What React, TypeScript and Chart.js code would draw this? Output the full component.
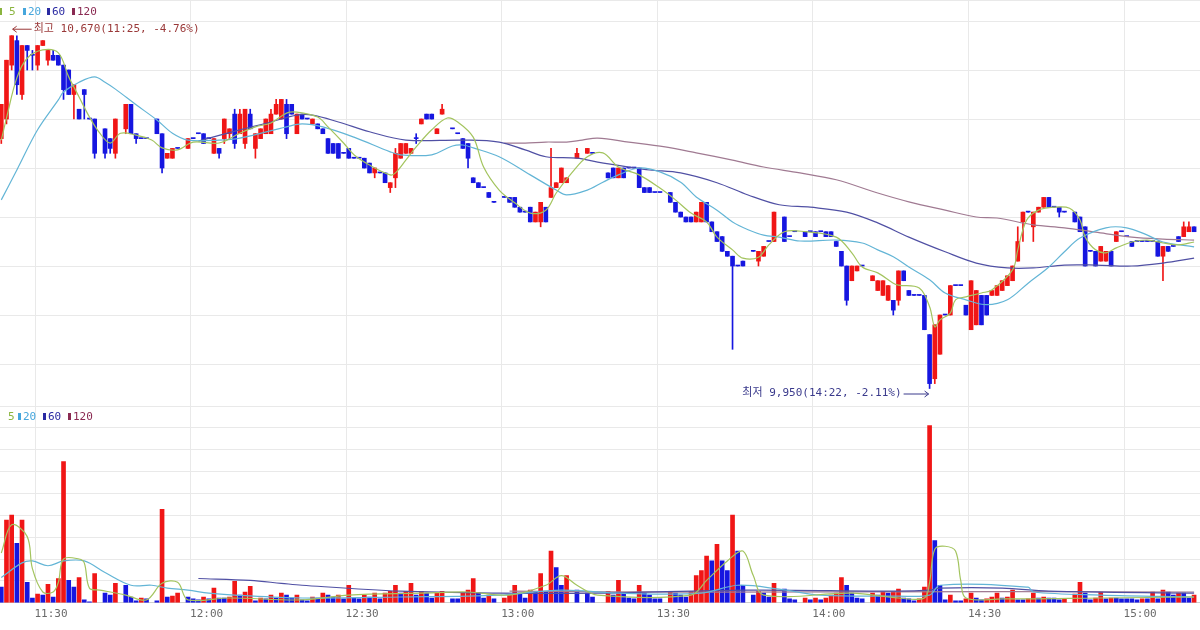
import React, { useEffect, useRef } from "react";
import { Chart, registerables } from "chart.js";

Chart.register(...registerables);

// ---- time axis (minutes after 11:00); first candle is 11:23 ----
const FIRST_MINUTE = 23;
const tickMinutes = [30, 60, 90, 120, 150, 180, 210, 240];
const tickLabels = ["11:30", "12:00", "12:30", "13:00", "13:30", "14:00", "14:30", "15:00"];

// ---- 1-minute candles (null = no trade) ----
const opens = [
  10460,10500,10610,10660,10550,10650,10630,10610,10650,10620,
  10630,10630,10610,10600,10550,10520,10560,10500,10500,null,
  10480,10460,10430,null,10480,10530,10470,10460,10460,null,
  10500,10470,10420,10420,10440,null,10440,10460,10470,10470,
  10460,10430,10440,10460,10470,10510,10470,10450,10510,10440,
  10460,10470,10470,10510,10500,10530,10530,10470,10510,10500,
  10490,10490,10480,10460,10450,10450,10430,10440,10420,10420,
  10420,10410,10390,10390,10390,10360,10380,10420,10430,10430,
  10460,10490,10510,10510,10470,10510,null,10480,10470,10460,
  10450,10380,10370,10360,10350,10330,null,10340,10340,10340,
  10320,10310,10320,10290,10290,10320,10340,10360,10370,10370,
  null,10420,null,10430,10430,null,null,10390,10400,10380,
  10400,10400,10400,10400,10360,10360,10350,10350,null,10350,
  10330,10310,10300,10300,10290,10290,10330,10290,10270,10260,
  10230,10220,10200,10210,null,10230,10210,10220,10250,10250,
  null,10300,10260,10270,null,10270,10270,10270,10270,10270,
  10270,10250,10230,10200,10170,10190,10200,null,10170,10150,
  10140,10130,10130,10130,10190,10150,10140,10140,10140,10060,
  9970,10020,10100,10100,10160,10160,10120,10070,10080,10140,
  10140,10140,10140,10150,10160,10170,10210,10290,10310,10280,
  10310,10320,10340,10320,10320,10310,null,10310,10300,10280,
  10230,10230,10210,10210,10230,10250,10270,10260,10250,10250,
  10250,10250,10250,10250,10220,10240,10240,10260,10260,10270,
  10280,
];
const highs = [
  10530,10620,10670,10670,10650,10650,10640,10650,10660,10640,
  10640,10630,10610,10600,10570,10520,10560,10500,10500,null,
  10480,10460,10500,null,10530,10530,10470,10460,10460,null,
  10500,10470,10430,10440,10440,null,10460,10460,10470,10470,
  10460,10460,10440,10500,10480,10520,10520,10520,10520,10470,
  10480,10500,10520,10540,10540,10540,10530,10510,10510,10500,
  10500,10490,10480,10460,10450,10450,10430,10440,10420,10420,
  10420,10410,10400,10390,10390,10370,10440,10450,10450,10440,
  10470,10500,10510,10510,10480,10530,null,10480,10470,10460,
  10450,10380,10370,10360,10350,10330,null,10340,10340,10340,
  10320,10310,10320,10310,10330,10320,10440,10370,10400,10380,
  null,10440,null,10440,10430,null,null,10390,10400,10400,
  10400,10400,10400,10400,10360,10360,10350,10350,null,10350,
  10330,10310,10300,10300,10310,10330,10330,10290,10270,10260,
  10230,10220,10200,10210,null,10230,10230,10240,10250,10310,
  null,10300,10260,10270,null,10270,10270,10270,10270,10270,
  10270,10250,10230,10200,10200,10200,10200,null,10180,10170,
  10170,10160,10130,10190,10190,10150,10140,10140,10140,10060,
  10080,10100,10100,10160,10160,10160,10120,10170,10150,10140,
  10140,10150,10160,10170,10180,10200,10280,10310,10310,10310,
  10320,10340,10340,10320,10320,10310,null,10310,10300,10280,
  10230,10230,10240,10230,10230,10270,10270,10260,10250,10250,
  10250,10250,10250,10250,10240,10240,10240,10260,10290,10290,
  10280,
];
const lows = [
  10450,10490,10600,10550,10540,10600,10600,10600,10650,10610,
  10620,10610,10540,10550,10500,10500,10500,10500,10420,null,
  10420,10430,10420,null,10470,10470,10450,10460,10460,null,
  10470,10390,10420,10420,10440,null,10440,10460,10470,10450,
  10460,10430,10420,10450,10460,10440,10470,10440,10480,10420,
  10460,10470,10470,10510,10500,10460,10510,10470,10500,10500,
  10490,10480,10470,10430,10430,10420,10430,10420,10420,10420,
  10400,10390,10380,10390,10370,10350,10360,10420,10430,10430,
  10450,10490,10500,10500,10470,10510,null,10480,10470,10440,
  10400,10370,10360,10360,10340,10330,null,10340,10330,10320,
  10310,10310,10290,10290,10280,10290,10340,10360,10370,10370,
  null,10420,null,10430,10430,null,null,10380,10380,10380,
  10380,10400,10400,10360,10350,10350,10350,10350,null,10330,
  10310,10300,10290,10290,10290,10290,10290,10270,10250,10230,
  10220,10030,10200,10200,null,10230,10200,10220,10250,10250,
  null,10250,10260,10270,null,10260,10270,10260,10270,10260,
  10260,10240,10200,10120,10170,10190,10200,null,10170,10150,
  10140,10130,10100,10120,10170,10140,10140,10140,10070,9950,
  9960,10020,10100,10100,10160,10160,10100,10070,10080,10080,
  10100,10140,10140,10150,10160,10170,10210,10250,10310,10250,
  10310,10320,10320,10320,10300,10310,null,10290,10270,10200,
  10230,10200,10210,10210,10200,10250,10270,10260,10240,10250,
  10250,10250,10250,10220,10170,10230,10240,10250,10260,10270,
  10270,
];
const closes = [
  10530,10620,10670,10570,10650,10640,10630,10650,10660,10640,
  10620,10610,10560,10550,10570,10500,10550,10500,10430,null,
  10430,10440,10500,null,10530,10470,10460,10460,10460,null,
  10470,10400,10430,10440,10440,null,10460,10460,10470,10450,
  10460,10460,10430,10500,10480,10450,10510,10520,10480,10470,
  10480,10500,10510,10530,10540,10470,10510,10510,10500,10500,
  10500,10480,10470,10430,10430,10420,10430,10420,10420,10420,
  10400,10390,10400,10390,10370,10370,10430,10450,10450,10440,
  10460,10500,10500,10500,10480,10520,null,10480,10470,10440,
  10420,10370,10360,10360,10340,10330,null,10340,10330,10320,
  10310,10310,10290,10310,10330,10290,10360,10370,10400,10380,
  null,10430,null,10440,10430,null,null,10380,10380,10400,
  10380,10400,10400,10360,10350,10350,10350,10350,null,10330,
  10310,10300,10290,10290,10310,10330,10290,10270,10250,10230,
  10220,10200,10200,10200,null,10230,10230,10240,10250,10310,
  null,10250,10260,10270,null,10260,10270,10260,10270,10260,
  10260,10240,10200,10130,10200,10200,10200,null,10180,10170,
  10170,10160,10110,10190,10170,10140,10140,10140,10070,9960,
  10080,10100,10100,10160,10160,10160,10100,10170,10150,10080,
  10100,10150,10160,10170,10180,10200,10250,10310,10310,10310,
  10320,10340,10320,10320,10310,10310,null,10290,10270,10200,
  10230,10200,10240,10230,10200,10270,10270,10260,10240,10250,
  10250,10250,10250,10220,10240,10230,10240,10250,10280,10280,
  10270,
];
const volumes = [
  81,429,455,308,429,106,25,45,40,96,
  30,126,732,116,81,131,15,5,152,null,
  50,40,101,null,91,30,10,25,20,null,
  10,485,30,35,50,null,30,20,15,30,
  20,76,25,25,30,111,40,56,86,10,
  25,20,40,25,50,40,25,40,15,10,
  30,25,50,40,30,40,20,91,25,20,
  40,30,50,20,50,60,91,50,60,101,
  40,60,50,25,50,60,null,20,20,50,
  66,126,50,25,40,20,null,25,40,91,
  50,25,66,60,152,60,268,182,91,141,
  null,66,null,50,30,null,null,60,40,116,
  50,25,20,91,50,40,20,20,null,60,
  50,40,30,60,141,167,242,217,303,217,
  167,455,268,91,null,40,60,50,30,101,
  null,71,20,15,null,25,15,25,15,25,
  40,50,131,91,50,25,20,null,50,40,
  60,50,60,71,25,20,10,20,81,919,
  323,91,15,40,10,10,20,50,25,15,
  20,30,50,25,30,66,15,15,20,50,
  25,30,25,25,15,20,null,45,106,50,
  15,25,56,20,25,25,20,20,20,15,
  20,20,56,20,66,56,40,50,50,25,
  40,
];

// ---- price moving averages at candle indexes ----
const ma5Idx = [0,1,3,5,8,11,13,15,17,19,21,23,26,29,31,34,37,42,46,49,52,55,57,61,63,66,68,71,75,76,78,80,83,86,88,91,93,96,99,102,105,107,110,113,116,119,123,127,130,133,136,138,141,143,146,148,151,155,161,164,166,169,172,173,177,179,180,181,183,184,186,189,191,195,196,197,198,200,203,206,208,209,211,213,215,218,221,224,227,230];
const ma5Val = [10457,10502,10584,10624,10641,10635,10586,10545,10504,10471,10451,10471,10467,10457,10441,10437,10453,10451,10471,10484,10492,10512,10514,10504,10484,10451,10427,10406,10386,10390,10416,10443,10478,10502,10494,10463,10402,10355,10329,10308,10314,10349,10390,10423,10431,10402,10386,10359,10335,10308,10290,10259,10233,10216,10218,10243,10270,10270,10259,10227,10198,10186,10165,10161,10155,10117,10076,10090,10104,10131,10137,10145,10151,10192,10233,10274,10298,10314,10320,10318,10294,10259,10233,10227,10237,10249,10253,10247,10243,10249];
const ma20Idx = [0,3,7,11,12,15,18,20,22,26,30,33,36,42,46,55,58,62,68,75,77,83,87,89,91,96,102,107,109,113,116,119,123,127,131,134,138,141,144,147,150,154,161,166,169,172,175,179,182,186,190,194,198,202,205,208,213,217,221,224,230];
const ma20Val = [10335,10396,10478,10539,10555,10575,10586,10575,10561,10529,10498,10471,10457,10457,10461,10484,10490,10484,10463,10433,10427,10427,10445,10447,10441,10423,10386,10355,10345,10355,10371,10386,10400,10392,10371,10341,10314,10290,10274,10263,10259,10251,10253,10247,10233,10219,10198,10172,10145,10131,10121,10131,10165,10198,10229,10257,10278,10278,10263,10249,10239];
const ma60Idx = [38,46,52,57,60,65,71,78,89,96,101,105,111,115,121,125,131,138,144,150,156,163,169,175,182,188,194,199,205,211,218,224,230];
const ma60Val = [10455,10478,10494,10508,10508,10494,10474,10457,10457,10453,10437,10423,10420,10412,10402,10396,10390,10370,10345,10325,10320,10310,10288,10259,10229,10206,10196,10196,10202,10202,10200,10206,10216];
const ma120Idx = [97,101,105,109,112,115,121,128,134,141,147,154,161,169,175,182,188,192,199,205,211,218,224,230];
const ma120Val = [10451,10451,10453,10453,10457,10461,10453,10443,10431,10416,10402,10390,10376,10349,10331,10314,10300,10298,10284,10278,10269,10259,10255,10253];

// ---- volume moving averages ----
const vma5Idx = [0,2,5,6,8,10,11,12,15,16,17,19,24,28,31,34,36,44,58,67,81,90,98,105,108,111,115,133,136,140,143,145,147,164,173,178,179,180,182,184,185,186,193,212,230];
const vma5Val = [258,404,343,177,56,56,106,227,227,207,76,66,40,15,101,106,15,25,15,40,50,56,40,91,141,91,40,40,116,217,268,141,40,50,25,25,106,278,293,268,116,25,20,25,30];
const vma20Idx = [0,4,6,9,12,16,20,25,29,32,36,40,45,58,77,96,108,119,135,142,150,158,173,179,181,198,199,212,230];
const vma20Val = [131,207,217,192,217,217,157,91,91,76,66,50,40,25,30,40,66,50,50,91,71,40,35,40,91,81,56,40,30];
const vma60Idx = [38,48,54,58,77,96,115,144,173,179,181,193,202,230];
const vma60Val = [126,116,101,91,60,50,50,66,60,66,76,76,60,50];
const vma120Idx = [98,135,193,230];
const vma120Val = [60,55,58,56];

const legendLabels = ["5", "20", "60", "120"];
const highNote = "최고 10,670(11:25, -4.76%)";
const lowNote = "최저 9,950(14:22, -2.11%)";

// ---- styling ----
const X_MIN = 23.25;
const X_MAX = 254.64;
const PRICE_MIN = 9914.3;
const PRICE_MAX = 10742.9;
const VOL_MAX = 1020;
const UP = "#f01616";
const DOWN = "#1616e0";
const C5 = "#a3c45e";
const C20 = "#63b5d6";
const C60 = "#5050a4";
const C120 = "#a07a92";
const LEG = ["#8ab43e", "#46a6dc", "#2a2aa2", "#8a2a52"];
const GRID = "#e9e9e9";
const FONT = "11px 'DejaVu Sans Mono', 'Noto Sans CJK KR', monospace";

const xOf = (k: number) => FIRST_MINUTE + 0.5 + k;

const lineDs = (label: string, idx: number[], val: number[], color: string) => ({
  type: "line" as const,
  label,
  data: idx.map((k, i) => ({ x: xOf(k), y: val[i] })),
  borderColor: color,
  backgroundColor: color,
  borderWidth: 1.2,
  pointRadius: 0,
  tension: 0.35,
  fill: false,
  order: 0,
});

const xScale = (showLabels: boolean) => ({
  type: "linear" as const,
  min: X_MIN,
  max: X_MAX,
  offset: false,
  grid: { color: GRID, drawTicks: false, offset: false },
  border: { display: true, color: "#cfcfcf" },
  afterBuildTicks: (s: any) => {
    s.ticks = tickMinutes.map((v) => ({ value: v }));
  },
  ticks: {
    display: showLabels,
    autoSkip: false,
    maxRotation: 0,
    padding: 5,
    labelOffset: 16,
    color: "#6a6a6a",
    font: { family: "'DejaVu Sans Mono', monospace", size: 11 },
    callback: (_v: any, i: number) => tickLabels[i],
  },
});

function drawLegend(ctx: CanvasRenderingContext2D, sq: number[], tx: number[], cy: number) {
  ctx.font = FONT;
  ctx.textBaseline = "middle";
  ctx.textAlign = "left";
  legendLabels.forEach((lab, i) => {
    ctx.fillStyle = LEG[i];
    ctx.fillRect(sq[i], cy - 4, 3, 7);
    ctx.fillText(lab, tx[i], cy);
  });
}

const priceOverlay = {
  id: "priceOverlay",
  afterDatasetsDraw(chart: any) {
    const { ctx, scales } = chart;
    const xs = scales.x;
    const ys = scales.y;
    ctx.save();
    drawLegend(ctx, [-1, 23, 47, 72], [9, 28, 52, 77], 12);

    let hi = -1;
    let lo = -1;
    highs.forEach((h, i) => {
      if (h != null && (hi < 0 || h > (highs[hi] as number))) hi = i;
    });
    lows.forEach((l, i) => {
      if (l != null && (lo < 0 || l < (lows[lo] as number))) lo = i;
    });

    ctx.font = FONT;
    ctx.textBaseline = "middle";
    ctx.lineWidth = 1;

    // high annotation
    const hx = xs.getPixelForValue(xOf(hi));
    const hy = ys.getPixelForValue(highs[hi]) - 7;
    ctx.strokeStyle = "#9a3838";
    ctx.fillStyle = "#9a3838";
    ctx.beginPath();
    ctx.moveTo(hx + 1, hy + 0.5);
    ctx.lineTo(hx + 20, hy + 0.5);
    ctx.moveTo(hx + 1, hy + 0.5);
    ctx.lineTo(hx + 5, hy - 2.5);
    ctx.moveTo(hx + 1, hy + 0.5);
    ctx.lineTo(hx + 5, hy + 3.5);
    ctx.stroke();
    ctx.textAlign = "left";
    ctx.fillText(highNote, hx + 22, hy);

    // low annotation
    const lx = xs.getPixelForValue(xOf(lo));
    const ly = ys.getPixelForValue(lows[lo]) + 5;
    ctx.strokeStyle = "#3a3a8c";
    ctx.fillStyle = "#3a3a8c";
    ctx.beginPath();
    ctx.moveTo(lx - 26, ly + 0.5);
    ctx.lineTo(lx - 1, ly + 0.5);
    ctx.moveTo(lx - 1, ly + 0.5);
    ctx.lineTo(lx - 5, ly - 2.5);
    ctx.moveTo(lx - 1, ly + 0.5);
    ctx.lineTo(lx - 5, ly + 3.5);
    ctx.stroke();
    ctx.textAlign = "right";
    ctx.fillText(lowNote, lx - 28, ly);
    ctx.restore();
  },
};

const volumeOverlay = {
  id: "volumeOverlay",
  afterDatasetsDraw(chart: any) {
    const { ctx } = chart;
    ctx.save();
    drawLegend(ctx, [-6, 18, 43, 68], [8, 23, 48, 73], 11);
    ctx.restore();
  },
};

export default function App() {
  const priceRef = useRef<HTMLCanvasElement>(null);
  const volRef = useRef<HTMLCanvasElement>(null);

  useEffect(() => {
    const present = opens.map((o, i) => (o == null ? -1 : i)).filter((i) => i >= 0);
    const colorOf = (i: number) => ((closes[i] as number) > (opens[i] as number) ? UP : DOWN);
    const candleColors = present.map(colorOf);

    const priceChart = new Chart(priceRef.current as HTMLCanvasElement, {
      type: "bar",
      data: {
        datasets: [
          lineDs("MA5", ma5Idx, ma5Val, C5),
          lineDs("MA20", ma20Idx, ma20Val, C20),
          lineDs("MA60", ma60Idx, ma60Val, C60),
          lineDs("MA120", ma120Idx, ma120Val, C120),
          {
            type: "bar",
            label: "body",
            data: present.map((i) => ({ x: xOf(i), y: [opens[i], closes[i]] })) as any,
            backgroundColor: candleColors,
            borderWidth: 0,
            barThickness: 4,
            minBarLength: 1,
            grouped: false,
            order: 2,
          },
          {
            type: "bar",
            label: "wick",
            data: present.map((i) => ({ x: xOf(i), y: [lows[i], highs[i]] })) as any,
            backgroundColor: candleColors,
            borderWidth: 0,
            barThickness: 1,
            grouped: false,
            order: 3,
          },
        ] as any,
      },
      options: {
        responsive: false,
        animation: false,
        events: [],
        layout: { padding: 0 },
        plugins: { legend: { display: false }, tooltip: { enabled: false } },
        scales: {
          x: xScale(false) as any,
          y: {
            min: PRICE_MIN,
            max: PRICE_MAX,
            grid: { color: GRID, drawTicks: false },
            border: { display: false },
            ticks: { display: false, stepSize: 100 },
          },
        },
      },
      plugins: [priceOverlay],
    });

    const volPresent = volumes.map((v, i) => (v == null ? -1 : i)).filter((i) => i >= 0);
    const volColors = volPresent.map((i, n) =>
      n > 0 && (volumes[i] as number) > (volumes[volPresent[n - 1]] as number) ? UP : DOWN
    );

    const volumeChart = new Chart(volRef.current as HTMLCanvasElement, {
      type: "bar",
      data: {
        datasets: [
          lineDs("VMA5", vma5Idx, vma5Val, C5),
          lineDs("VMA20", vma20Idx, vma20Val, C20),
          lineDs("VMA60", vma60Idx, vma60Val, C60),
          lineDs("VMA120", vma120Idx, vma120Val, C120),
          {
            type: "bar",
            label: "volume",
            data: volPresent.map((i) => ({ x: xOf(i), y: volumes[i] })) as any,
            backgroundColor: volColors,
            borderWidth: 0,
            barThickness: 4,
            grouped: false,
            order: 2,
          },
        ] as any,
      },
      options: {
        responsive: false,
        animation: false,
        events: [],
        layout: { padding: { bottom: 4 } },
        plugins: { legend: { display: false }, tooltip: { enabled: false } },
        scales: {
          x: xScale(true) as any,
          y: {
            min: 0,
            max: VOL_MAX,
            grid: { color: GRID, drawTicks: false },
            border: { display: false },
            ticks: { display: false, stepSize: VOL_MAX / 9 },
          },
        },
      },
      plugins: [volumeOverlay],
    });

    return () => {
      priceChart.destroy();
      volumeChart.destroy();
    };
  }, []);

  return (
    <div style={{ position: "fixed", left: 0, top: 0, width: 1200, height: 630, background: "#fff" }}>
      <canvas ref={priceRef} width={1200} height={406} style={{ position: "absolute", left: 0, top: 0 }} />
      <canvas ref={volRef} width={1200} height={224} style={{ position: "absolute", left: 0, top: 406 }} />
    </div>
  );
}
